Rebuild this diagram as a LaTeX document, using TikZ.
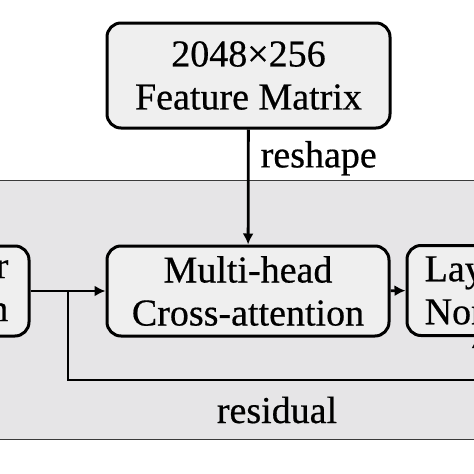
\documentclass[tikz,border=0pt]{standalone}
\usepackage{fontspec}
\setmainfont{Liberation Serif}
\newfontfamily\dfont{Liberation Serif}[FakeBold=0.5]
\usetikzlibrary{arrows.meta}
\definecolor{bgfill}{HTML}{E6E5E7}
\definecolor{boxfill}{HTML}{EFEFEF}
\definecolor{bgline}{HTML}{3A3A3A}
\begin{document}
\begin{tikzpicture}[x=1pt,y=-1pt,
  blk/.style={draw=black, line width=3pt, rounded corners=14pt, fill=boxfill, align=center, inner sep=0pt, font=\dfont\fontsize{38}{43}\selectfont},
  conn/.style={line width=2.8pt, -{Latex[length=11pt,width=11pt]}},
  plain/.style={line width=2.8pt},
  lbl/.style={font=\dfont\fontsize{38}{43}\selectfont, inner sep=0pt}]
\useasboundingbox (0,0) rectangle (474,474);
\clip (0,0) rectangle (474,474);
\fill[white] (0,0) rectangle (474,474);
\draw[bgline, fill=bgfill, line width=1pt] (-10,180) rectangle (484,439);
\node[blk, minimum width=283pt, minimum height=105pt] (fm) at (248.5,75.5) {2048×256\\Feature Matrix};
\node[blk, minimum width=282pt, minimum height=90pt] (mh) at (248,291) {Multi-head\\Cross-attention};
\node[blk, minimum width=124pt, minimum height=90pt] (ln) at (469,290.5) {Layer\\Norm};
\node[blk, minimum width=260pt, minimum height=90pt] (lp) at (-101,291) {};
\node[lbl, anchor=east] (lpt) at ([xshift=-22pt]lp.east) {\begin{tabular}{@{}r@{}}Multi-layer\\Perceptron\end{tabular}};
\coordinate (split) at (68,291);
\coordinate (rs) at (477,380);
\draw[conn] (fm) -- node[lbl, pos=0.25, anchor=west, xshift=11pt] {reshape} (mh);
\draw[conn] (lp) -- (mh);
\draw[conn] (mh) -- (ln);
\draw[plain] (split) |- (rs);
\draw[conn] (rs) -- (rs |- ln.south);
\node[lbl, anchor=base] (res) at (277,423) {residual};
\end{tikzpicture}
\end{document}
